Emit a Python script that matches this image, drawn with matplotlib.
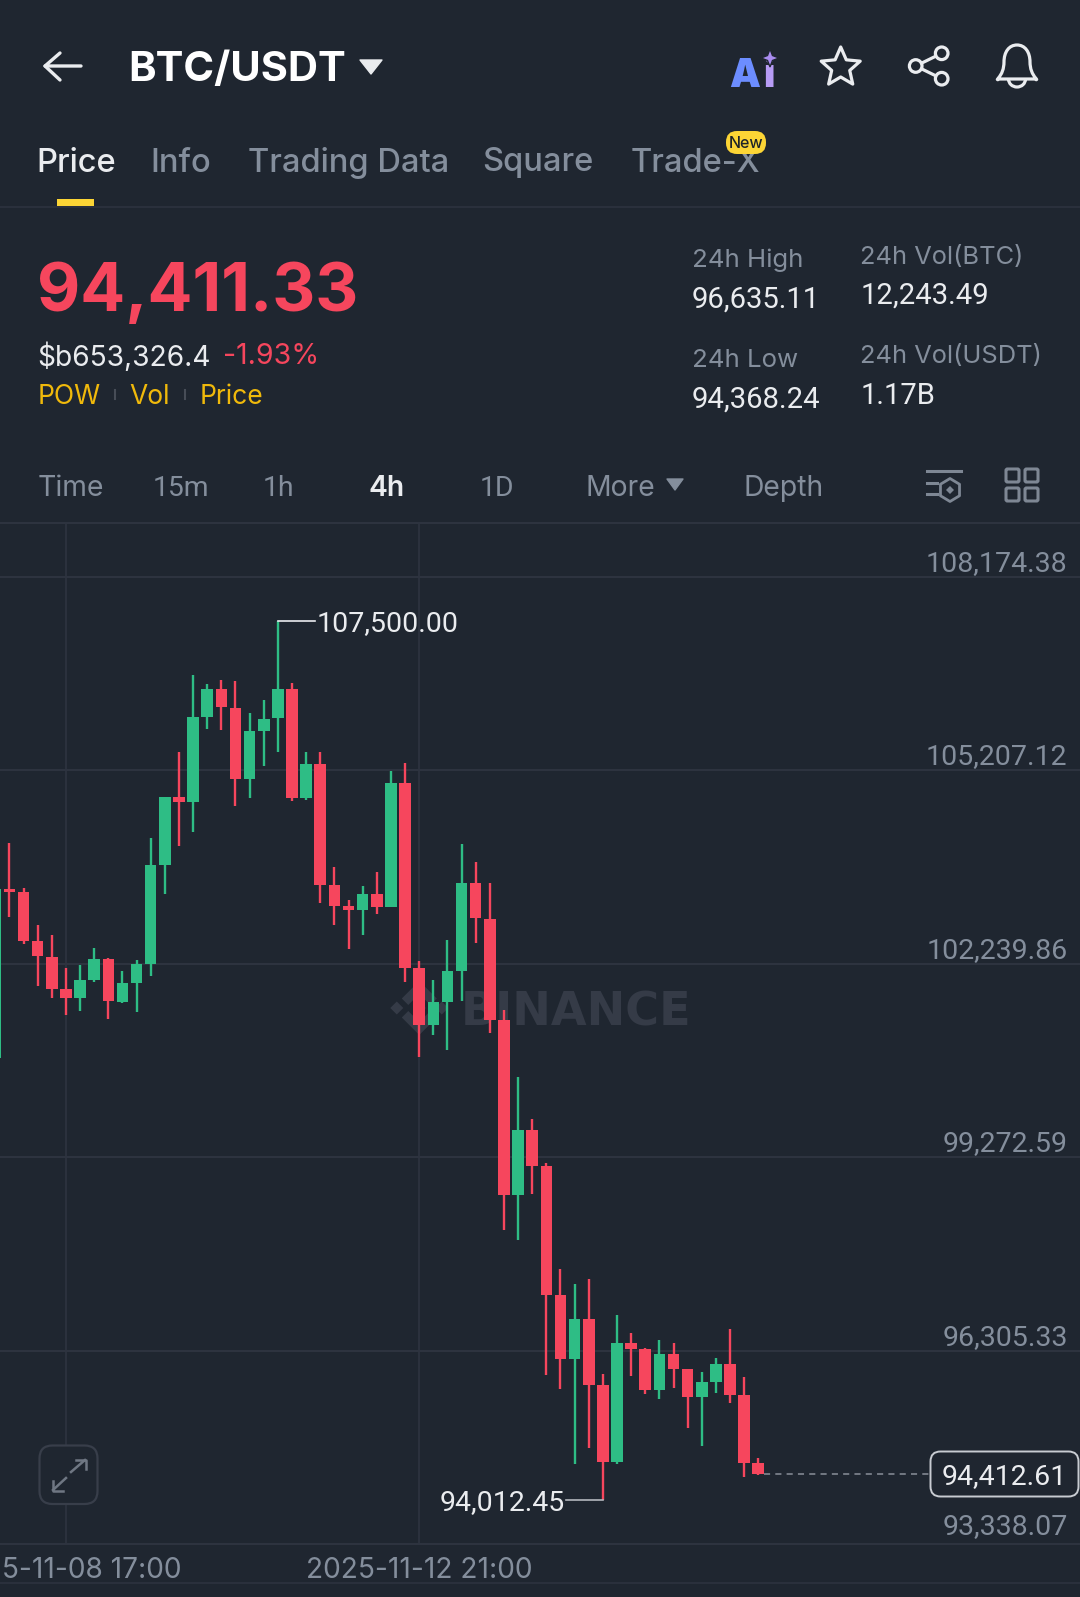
import matplotlib
matplotlib.use("Agg")
import matplotlib.pyplot as plt
from matplotlib.patches import FancyBboxPatch, Polygon, Circle, Arc, PathPatch, Rectangle
from matplotlib.path import Path
import numpy as np

plt.rcParams['font.family'] = ['Inter', 'DejaVu Sans']
NUM = ['Roboto', 'DejaVu Sans']  # digits all one width, like the app

# candles, left to right, first one is cut off by the screen edge
opens = [100793, 103391, 103335, 102588, 102348, 101852, 101708, 101990, 102307, 101657,
         101944, 102240, 103759, 104797, 104721, 106025, 106454, 106168, 105079, 105815,
         106010, 106449, 104777, 105304, 103452, 103120, 103059, 103304, 103115, 105017,
         102168, 101294, 101652, 102127, 103472, 102930, 101380, 98686, 99688, 99136,
         97151, 96169, 96793, 95775, 94594, 96415, 96328, 95699, 96256, 96016,
         95596, 95827, 96098, 95622, 94574]
highs = [103386, 104087, 103396, 102828, 102680, 102179, 102215, 102476, 102332, 102128,
         102302, 104163, 104797, 105488, 106664, 106531, 106593, 106582, 106086, 106291,
         107500, 106541, 105488, 105493, 103723, 103217, 103432, 103647, 105196, 105324,
         102281, 101994, 102598, 104076, 103805, 103472, 101529, 100496, 99862, 99176,
         97550, 97320, 97407, 95939, 96844, 96568, 96348, 96466, 96420, 96016,
         95975, 96190, 96635, 95893, 94655]
lows = [100793, 102961, 102537, 101903, 101719, 101453, 101519, 101954, 101396, 101632,
        101494, 102046, 103314, 104051, 104266, 105841, 105831, 104664, 104777, 105278,
        105493, 104736, 104757, 103166, 102839, 102470, 102685, 103007, 103115, 101964,
        100813, 101140, 100920, 101667, 102552, 101181, 98148, 98000, 98701, 95929,
        95709, 94563, 94804, 94012.45, 94563, 95919, 95632, 95566, 95735, 95121,
        94845, 95648, 95504, 94369, 94400]
closes = [103386, 103340, 102593, 102353, 101857, 101708, 101985, 102307, 101662, 101939,
          102235, 103754, 104797, 104721, 106020, 106454, 106173, 105079, 105810, 105999,
          106449, 104782, 105304, 103452, 103125, 103059, 103304, 103115, 105012, 102168,
          101294, 101652, 102127, 103472, 102935, 101380, 98686, 99688, 99141, 97151,
          96169, 96793, 95781, 94594, 96415, 96333, 95699, 96256, 96016, 95596,
          95821, 96098, 95627, 94574, 94412.61]

grid_prices = [108174.38, 105207.12, 102239.86, 99272.59, 96305.33, 93338.07]
grid_labels = ['108,174.38', '105,207.12', '102,239.86', '99,272.59', '96,305.33', '93,338.07']
time_idx = [3.98, 29.0]
time_labels = ['2025-11-08 17:00', '2025-11-12 21:00']
last_price = 94412.61

BG = '#1F2630'
RED = '#F6465D'
GREEN = '#2EBD85'
GRID = '#2D333F'
WHITE = '#EAECEF'
GREY = '#848E9C'
YEL = '#F0B90B'

W, H = 1080, 1597
fig = plt.figure(figsize=(W / 100, H / 100), dpi=100, facecolor=BG)


def px_axes(z):
    a = fig.add_axes((0, 0, 1, 1), zorder=z)
    a.set_xlim(0, W)
    a.set_ylim(H, 0)
    a.axis('off')
    return a


back = px_axes(1)
ui = px_axes(3)

# chart axes, aligned so the grid falls on the screen rows
top_px, bot_px = 523, 1544
per_px = 2967.26 / 193.4
ax = fig.add_axes((0, 1 - bot_px / H, 1, (bot_px - top_px) / H), zorder=2)
ax.patch.set_alpha(0)
ax.set_xlim(-9.4 / 14.13, (W - 9.4) / 14.13)
ax.set_ylim(grid_prices[-1], grid_prices[-1] + (bot_px - top_px) * per_px)
for s in ax.spines.values():
    s.set_visible(False)
ax.set_xticks([])
ax.set_yticks([])

for p in grid_prices:
    ax.axhline(p, color=GRID, lw=1.5, zorder=1, clip_on=False)
for t in time_idx:
    ax.axvline(t, color=GRID, lw=1.3, zorder=1)

opens = np.array(opens)
closes = np.array(closes)
idx = np.arange(len(opens)) - 1
colors = [GREEN if c >= o else RED for o, c in zip(opens, closes)]
ax.vlines(idx, lows, highs, colors=colors, lw=1.7, zorder=3)
ax.bar(idx, np.abs(closes - opens), bottom=np.minimum(opens, closes), width=0.82,
       color=colors, zorder=4)

# price labels sit just above their grid line
for p, lab in zip(grid_prices, grid_labels):
    off = 0 if p != grid_prices[-1] else 4
    ax.annotate(lab, xy=(1, p), xycoords=ax.get_yaxis_transform(),
                xytext=(-12.5 / 1.389, off / 1.389), textcoords='offset points',
                ha='right', va='bottom', color=GREY, fontsize=20.5, family=NUM, clip_on=False)

# last price dashes and box
ax.plot([idx[-1] + 0.41, (930 - 9.4) / 14.13], [last_price, last_price], color='#8A8F99',
        lw=1.1, ls=(0, (4, 3.4)), zorder=2)
ui.add_patch(FancyBboxPatch((930.5, 1451.5), 148, 45, boxstyle='round,pad=0,rounding_size=10',
                            fc=BG, ec='#C8CCD2', lw=1.4))
ui.text(1004.5, 1474, '94,412.61', color=WHITE, fontsize=20.5, family=NUM, ha='center', va='center_baseline')

# high / low callouts
hi = int(np.argmax(highs))
lo = int(np.argmin(lows))
ax.plot([idx[hi], (315 - 9.4) / 14.13], [highs[hi], highs[hi]], color=WHITE, lw=1.2, zorder=5)
ax.plot([idx[lo], (566 - 9.4) / 14.13], [lows[lo], lows[lo]], color='#B5B8BE', lw=1.2, zorder=5)
ui.text(316.5, 620.5, '107,500.00', color=WHITE, fontsize=20.5, family=NUM, ha='left', va='center_baseline')
ui.text(565, 1499.5, '94,012.45', color=WHITE, fontsize=20.5, family=NUM, ha='right', va='center_baseline')

# time axis
for t, lab in zip(time_idx, time_labels):
    ax.annotate(lab, xy=(t, 0), xycoords=ax.get_xaxis_transform(), xytext=(0, -23.5 / 1.389),
                textcoords='offset points', ha='center', va='center_baseline',
                color=GREY, fontsize=20.2, clip_on=False)
ui.plot([0, W], [1583, 1583], color=GRID, lw=1.2)

# watermark
wm = '#353B47'
cx, cy = 419.3, 1008
chev = np.array([(0, -27), (17.5, -9.5), (11, -3), (0, -14), (-11, -3), (-17.5, -9.5)])
for sgn in (1, -1):
    back.add_patch(Polygon(np.c_[cx + chev[:, 0], cy + sgn * chev[:, 1]], fc=wm, ec='none'))
for dx in (-22.5, 0, 22.5):
    back.add_patch(Polygon([(cx + dx, cy - 6.5), (cx + dx + 6.5, cy), (cx + dx, cy + 6.5), (cx + dx - 6.5, cy)],
                           fc=wm, ec='none'))
back.text(461, 1008.5, 'BINANCE', color=wm, fontsize=33.2, family=['DejaVu Sans'], fontweight='bold',
          ha='left', va='center_baseline')

# expand button
ui.add_patch(FancyBboxPatch((39.5, 1445.5), 58, 58.5, boxstyle='round,pad=0,rounding_size=13',
                            fc=BG, ec='#383E4A', lw=1.6))
ic = '#6F7783'
ui.plot([71, 85], [1472, 1460], color=ic, lw=1.8)
ui.plot([76, 85.5, 85.5], [1459.5, 1459.5, 1469], color=ic, lw=1.8)
ui.plot([66, 53], [1478, 1490], color=ic, lw=1.8)
ui.plot([53, 53, 62.5], [1481, 1490.5, 1490.5], color=ic, lw=1.8)

# header
ui.plot([81, 45, 60], [66, 66, 53], color=WHITE, lw=2.4, solid_capstyle='round', solid_joinstyle='round')
ui.plot([45, 60], [66, 80], color=WHITE, lw=2.4, solid_capstyle='round')
ui.text(128, 66, 'BTC/USDT', color='white', fontsize=30, fontweight='bold', ha='left', va='center_baseline')
ui.add_patch(Polygon([(360, 60), (382, 60), (371, 74)], fc=WHITE, ec=WHITE, lw=1, joinstyle='round'))

# Ai icon
ui.text(729, 87, 'A', color='#6C8DFF', fontsize=28, fontweight='black', ha='left', va='baseline')
ui.text(763, 87, 'i', color='#B79CF5', fontsize=28, fontweight='black', ha='left', va='baseline')
sx, sy = 770, 58
ui.add_patch(Polygon([(sx, sy - 9), (sx + 2.5, sy - 2.5), (sx + 9, sy), (sx + 2.5, sy + 2.5), (sx, sy + 9),
                      (sx - 2.5, sy + 2.5), (sx - 9, sy), (sx - 2.5, sy - 2.5)], fc='#A98CF0', ec=BG, lw=1, zorder=5))

# star
sc = np.array([840.7, 67.5])
ang = np.deg2rad(-90 + 36 * np.arange(10))
rad = np.where(np.arange(10) % 2 == 0, 20.5, 9.5)
ui.add_patch(Polygon(np.c_[sc[0] + rad * np.cos(ang), sc[1] + rad * np.sin(ang)], fc='none', ec=WHITE, lw=2.3,
                     joinstyle='round'))

# share
pts = [(941.7, 53.3), (915.7, 66), (941.7, 78.7)]
ui.plot([pts[0][0], pts[1][0], pts[2][0]], [pts[0][1], pts[1][1], pts[2][1]], color=WHITE, lw=2.3)
for p in pts:
    ui.add_patch(Circle(p, 6.3, fc=BG, ec=WHITE, lw=2.3, zorder=4))

# bell
verts = [(998, 78.5), (1004, 72), (1004, 62), (1004, 52), (1009, 45), (1017, 45), (1025, 45), (1030, 52), (1030, 62),
         (1030, 72), (1036, 78.5), (1038, 81), (1035, 79), (999, 79), (996, 81), (998, 78.5)]
codes = [Path.MOVETO, Path.CURVE3, Path.CURVE3, Path.CURVE4, Path.CURVE4, Path.CURVE4, Path.CURVE4, Path.CURVE4,
         Path.CURVE4, Path.CURVE3, Path.CURVE3, Path.CURVE3, Path.CURVE3, Path.LINETO, Path.CURVE3, Path.CURVE3]
ui.add_patch(PathPatch(Path(verts, codes), fc='none', ec=WHITE, lw=2.3, joinstyle='round'))
ui.add_patch(Arc((1017, 79), 17, 16, theta1=0, theta2=180, ec=WHITE, lw=2.3))

# tabs
tab_x = [36.5, 150.5, 247.5, 482, 630.5]
tab_labels = ['Price', 'Info', 'Trading Data', 'Square', 'Trade-X']
for i, (x, lab) in enumerate(zip(tab_x, tab_labels)):
    ui.text(x, 159.5, lab, color=WHITE if i == 0 else GREY, fontsize=23.5, fontweight='medium', ha='left',
            va='center_baseline')
ui.add_patch(Rectangle((57, 199), 37, 7, fc='#FCD535', ec='none'))
ui.plot([0, W], [206.5, 206.5], color=GRID, lw=1.2)
ui.add_patch(FancyBboxPatch((726, 131), 40, 23, boxstyle='round,pad=0,rounding_size=11', fc='#FCD535', ec='none', zorder=5))
ui.text(746, 142.5, 'New', color='#1E2329', fontsize=11.5, fontweight='medium', ha='center', va='center_baseline', zorder=6)

# price block
ui.text(37, 286, '94,411.33', color=RED, fontsize=48, fontweight='bold', ha='left', va='center_baseline')
ui.text(37, 354, '$b653,326.4', color=WHITE, fontsize=20.3, ha='left', va='center_baseline')
ui.text(223, 354, '-1.93%', color=RED, fontsize=20.5, ha='left', va='center_baseline')
ui.text(38, 394, 'POW', color=YEL, fontsize=19, ha='left', va='center_baseline')
ui.text(129.5, 394, 'Vol', color=YEL, fontsize=19, ha='left', va='center_baseline')
ui.text(200, 394, 'Price', color=YEL, fontsize=19, ha='left', va='center_baseline')
for x in (115, 185):
    ui.plot([x, x], [390, 399], color='#474D57', lw=1.5)

# 24h stats
stat_left = [('24h High', 258), ('24h Low', 358)]
stat_left_val = [('96,635.11', 297), ('94,368.24', 397)]
stat_right = [('24h Vol(BTC)', 255), ('24h Vol(USDT)', 354)]
stat_right_val = [('12,243.49', 293), ('1.17B', 392.5)]
for (lab, y), (val, y2) in zip(stat_left, stat_left_val):
    ui.text(692, y, lab, color=GREY, fontsize=18.6, ha='left', va='center_baseline')
    ui.text(692, y2, val, color=WHITE, fontsize=21.1, family=NUM, ha='left', va='center_baseline')
for (lab, y), (val, y2) in zip(stat_right, stat_right_val):
    ui.text(860.5, y, lab, color=GREY, fontsize=18.3, ha='left', va='center_baseline')
    ui.text(861, y2, val, color=WHITE, fontsize=21.1, family=NUM, ha='left', va='center_baseline')

# interval row
iv_x = [38, 153, 263, 369, 480, 586, 743]
iv_labels = ['Time', '15m', '1h', '4h', '1D', 'More', 'Depth']
for x, lab in zip(iv_x, iv_labels):
    on = lab == '4h'
    fam = NUM if lab[0] == '1' else ['Inter', 'DejaVu Sans']
    ui.text(x, 486, lab, color=WHITE if on else GREY, fontsize=20.4, family=fam,
            fontweight='semibold' if on else 'normal', ha='left', va='center_baseline')
ui.add_patch(Polygon([(667, 479), (683, 479), (675, 490)], fc=GREY, ec=GREY, lw=1, joinstyle='round'))
ui.plot([0, W], [523, 523], color=GRID, lw=1.5)

# the two little icons on the right
ic2 = '#7E8794'
ui.plot([927, 961], [471, 471], color=ic2, lw=2.2)
ui.plot([927, 937], [483, 483], color=ic2, lw=2.2)
ui.plot([927, 937], [494, 494], color=ic2, lw=2.2)
a6 = np.deg2rad(90 + 60 * np.arange(6))
ui.add_patch(Polygon(np.c_[950 + 11 * np.cos(a6), 490 + 11.5 * np.sin(a6)], fc='none', ec=ic2, lw=2, joinstyle='round'))
ui.add_patch(Polygon([(950, 486), (954, 490), (950, 494), (946, 490)], fc=ic2, ec='none'))
for x in (1006, 1025):
    for y in (469, 488):
        ui.add_patch(FancyBboxPatch((x, y), 13, 13, boxstyle='round,pad=0,rounding_size=1.5', fc='none', ec=ic2, lw=2.2))

fig.savefig('out.png', dpi=100, facecolor=BG)
